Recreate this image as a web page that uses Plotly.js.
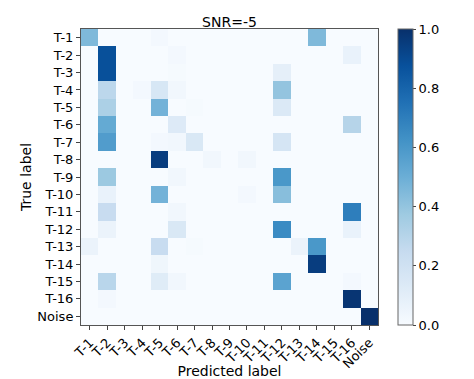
<!DOCTYPE html>
<html>
<head>
<meta charset="utf-8">
<script src="https://cdn.plot.ly/plotly-3.0.1.min.js"></script>
<style>html,body{margin:0;padding:0;background:#fff;}#chart{width:474px;height:379px;}</style>
</head>
<body>
<div id="chart"></div>
<script>
const labels = ["T-1","T-2","T-3","T-4","T-5","T-6","T-7","T-8","T-9","T-10","T-11","T-12","T-13","T-14","T-15","T-16","Noise"];
// rows: true label, columns: predicted label
const rowT1  = [0.45,0,0,0,0.02,0,0,0,0,0,0,0,0,0.45,0,0,0];
const rowT2  = [0,0.88,0,0,0,0.02,0,0,0,0,0,0,0,0,0,0.07,0];
const rowT3  = [0,0.88,0,0,0,0.01,0,0,0,0,0,0.09,0,0,0,0,0];
const rowT4  = [0,0.28,0,0.02,0.16,0.03,0,0,0,0,0,0.40,0,0,0,0,0];
const rowT5  = [0,0.33,0,0,0.48,0,0.01,0,0,0,0,0.14,0,0,0,0,0];
const rowT6  = [0,0.52,0,0,0,0.13,0,0,0,0,0,0,0,0,0,0.30,0];
const rowT7  = [0,0.58,0,0,0.02,0.03,0.15,0,0,0,0,0.17,0,0,0,0,0];
const rowT8  = [0,0,0,0,0.95,0,0,0.03,0,0.03,0,0,0,0,0,0,0];
const rowT9  = [0,0.38,0,0,0,0.03,0,0,0,0,0,0.60,0,0,0,0,0];
const rowT10 = [0,0.07,0,0,0.48,0,0,0,0,0.02,0,0.43,0,0,0,0,0];
const rowT11 = [0,0.24,0,0,0,0.03,0,0,0,0,0,0,0,0,0,0.70,0];
const rowT12 = [0,0.06,0,0,0,0.15,0,0,0,0,0,0.65,0,0,0,0.07,0];
const rowT13 = [0.06,0,0,0,0.24,0,0.01,0,0,0,0,0,0.06,0.60,0,0,0];
const rowT14 = [0,0,0,0,0.04,0,0,0,0,0,0,0,0,0.95,0,0,0];
const rowT15 = [0,0.29,0,0,0.12,0.03,0,0,0,0,0,0.55,0,0,0,0.02,0];
const rowT16 = [0,0.02,0,0,0,0,0,0,0,0,0,0,0,0,0,0.98,0];
const rowNoise=[0,0,0,0,0,0,0,0,0,0,0,0,0,0,0,0,1.0];
const z = [rowT1,rowT2,rowT3,rowT4,rowT5,rowT6,rowT7,rowT8,rowT9,rowT10,rowT11,rowT12,rowT13,rowT14,rowT15,rowT16,rowNoise];
const colorTicks = [0,0.2,0.4,0.6,0.8,1.0];

const blues = [[0,"#f7fbff"],[0.125,"#deebf7"],[0.25,"#c6dbef"],[0.375,"#9ecae1"],[0.5,"#6baed6"],[0.625,"#4292c6"],[0.75,"#2171b5"],[0.875,"#08519c"],[1,"#08306b"]];
const font = {family:"DejaVu Sans", size:13, color:"#000"};

Plotly.newPlot("chart",[{
  type:"heatmap", x:labels, y:labels, z:z, zmin:0, zmax:1,
  colorscale:blues, xgap:0, ygap:0,
  colorbar:{x:1.067, xanchor:"left", y:0.5, yanchor:"middle", len:1, lenmode:"fraction",
    thickness:15, thicknessmode:"pixels", outlinewidth:1, outlinecolor:"#666",
    tickvals:colorTicks, ticktext:colorTicks.map(v=>v.toFixed(1)), ticks:"outside", ticklen:3,
    tickfont:{family:"DejaVu Sans", size:13, color:"#000"}, xpad:0, ypad:0}
}],{
  width:474, height:379,
  margin:{l:81, r:96, t:29, b:54},
  paper_bgcolor:"#fff", plot_bgcolor:"#fff",
  font:font,
  title:{text:"SNR=-5", x:0.5, xref:"paper", xanchor:"center", yref:"paper", y:1, yanchor:"bottom", pad:{b:2},
    font:{family:"DejaVu Sans", size:14, color:"#000"}},
  xaxis:{type:"category", tickangle:-45, ticks:"outside", ticklen:4, showline:true, mirror:true, linecolor:"#555", linewidth:1,
    tickfont:{family:"DejaVu Sans", size:13}, automargin:false,
    title:{text:"Predicted label", font:{family:"DejaVu Sans", size:14}, standoff:8}},
  yaxis:{type:"category", autorange:"reversed", ticks:"outside", ticklen:4, showline:true, mirror:true, linecolor:"#555", linewidth:1,
    tickfont:{family:"DejaVu Sans", size:13}, automargin:false,
    title:{text:"True label", font:{family:"DejaVu Sans", size:14}, standoff:2}}
},{displayModeBar:false, staticPlot:true});
</script>
</body>
</html>
